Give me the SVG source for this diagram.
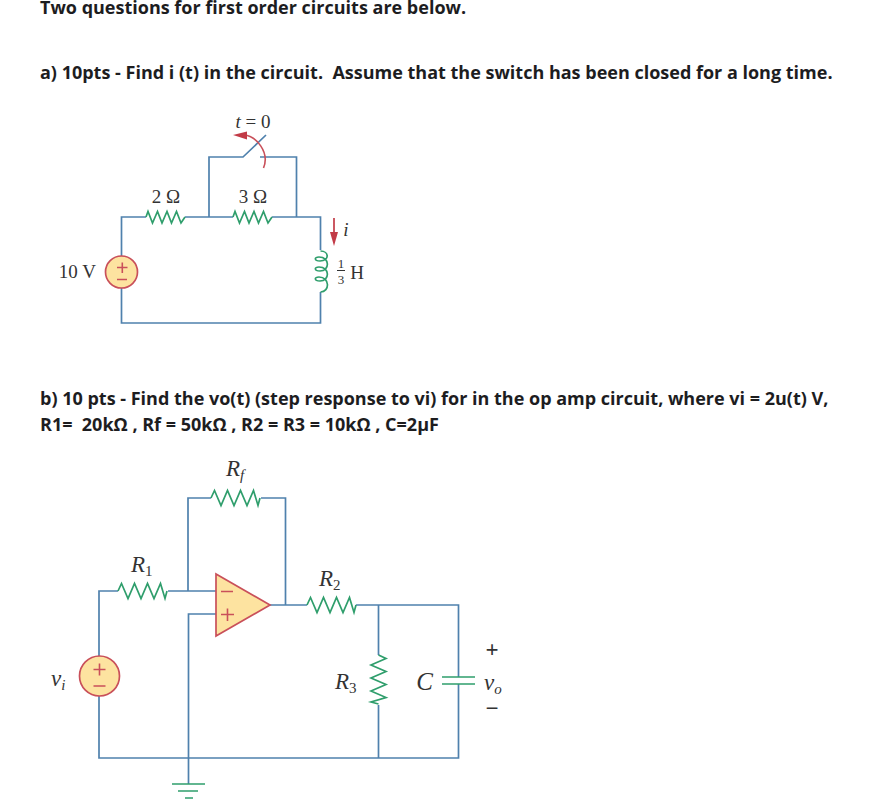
<svg xmlns="http://www.w3.org/2000/svg" width="872" height="803" viewBox="0 0 872 803">
<style>
.h{font:700 18px "Open Sans",sans-serif;fill:#1d1d1f;white-space:pre}
.w{fill:none;stroke:#4f81ad;stroke-width:1.700}
.r{fill:none;stroke:#2f9e6c;stroke-width:1.700}
.s{fill:#fde3a0;stroke:#c9505a;stroke-width:1.700}
.m{fill:none;stroke:#c9505a;stroke-width:1.600}
.t{font-family:"Liberation Serif",serif;font-size:19px;fill:#333}
.i{font-style:italic}
.b{font-size:23px}
.n{font-size:15px;font-style:normal}
.u{font-size:15px}
</style>
<defs>
<polyline id="zh" points="0,0 2,-5.500 6.500,6 11.500,-5.500 16,6 21,-5.500 25.500,6 30.500,-5.500 35,6 39,0"/>
<polyline id="zl" points="0,0 3.500,-7.500 10,7.500 16.500,-7.500 23,7.500 29.500,-7.500 36,7.500 42.500,-7.500 47,7.500 49,0"/>
</defs>
<rect width="872" height="803" fill="#fff"/>
<g id="headings">
<text class="h" x="40" y="14">Two questions for first order circuits are below.</text>
<text class="h" x="40" y="79">a) 10pts - Find i (t) in the circuit.  Assume that the switch has been closed for a long time.</text>
<text class="h" x="40" y="405">b) 10 pts - Find the vo(t) (step response to vi) for in the op amp circuit, where vi = 2u(t) V,</text>
<text class="h" x="40" y="431">R1=  20kΩ , Rf = 50kΩ , R2 = R3 = 10kΩ , C=2µF</text>
</g>
<g id="connectors">
<path class="w" d="M121.500 256V217H146M185 217H233M272 217H320.500V250M320.500 292V323H121.500V288"/>
<path class="w" d="M209 217V157H243L266 135M260 157H296.500V217"/>
<path class="w" d="M99 656V591H118M168 591H216M188 591V498H211M261 498H285.500V605M270 605H307M356 605H458.500V677M458.500 684V758H99V696"/>
<path class="w" d="M216 614H188.500V784M378.500 605V655M378.500 705V758"/>
</g>
<g id="R-2ohm"><use href="#zh" class="r" x="146" y="217"/><text class="t" x="166" y="203" text-anchor="middle">2 Ω</text></g>
<g id="R-3ohm"><use href="#zh" class="r" x="233" y="217"/><text class="t" x="253" y="203" text-anchor="middle">3 Ω</text></g>
<g id="switch">
<text class="t" x="253" y="128" text-anchor="middle"><tspan class="i">t</tspan> = 0</text>
<path class="m" d="M263.500 168C270 152 256 136 244 135"/>
<path d="M247 131.500L233 135L247 139.500Z" fill="#c23b47"/>
</g>
<g id="source-10V">
<circle class="s" cx="121.500" cy="272" r="16"/>
<path class="m" d="M117 267.500H127.500M122.300 262.500V273M117 279.500H127"/>
<text class="t" x="96" y="278" text-anchor="end">10 V</text>
</g>
<g id="inductor">
<path class="r" d="M320.500 251C329 251 330 261 320 261C314 261 314 257 319 257C330 257 330 271 320 271C314 271 314 267 319 267C330 267 330 281 320 281C314 281 314 277 319 277C330 277 330 292 320.500 292"/>
<text class="t" x="341" y="268" text-anchor="middle" style="font-size:13px">1</text>
<path d="M337 270.500H345" stroke="#333" stroke-width="1"/>
<text class="t" x="341" y="284" text-anchor="middle" style="font-size:13px">3</text>
<text class="t" x="357" y="279" text-anchor="middle">H</text>
</g>
<g id="current-i">
<path d="M334 218V234" stroke="#c23b47" stroke-width="1.700"/>
<path d="M330 232H338L334 246Z" fill="#c23b47"/>
<text class="t i" x="346" y="236" text-anchor="middle">i</text>
</g>
<g id="Rf"><use href="#zl" class="r" x="211" y="498"/><text class="t i b" x="226" y="476">R<tspan class="u" dy="4">f</tspan></text></g>
<g id="R1"><use href="#zl" class="r" x="118" y="591"/><text class="t i b" x="131" y="572">R<tspan class="n" dy="4">1</tspan></text></g>
<g id="R2"><use href="#zl" class="r" x="307" y="605"/><text class="t i b" x="319" y="586">R<tspan class="n" dy="4">2</tspan></text></g>
<g id="R3"><use href="#zl" class="r" transform="translate(378.500 655) rotate(90)"/><text class="t i b" x="335" y="689">R<tspan class="n" dy="4">3</tspan></text></g>
<g id="opamp">
<path class="s" d="M216 574V636L270 605Z"/>
<path class="m" d="M221 591.500H233M227.500 608.500V621M221 614.500H234"/>
</g>
<g id="source-vi">
<circle class="s" cx="99.500" cy="676" r="20"/>
<path class="m" d="M93.500 669.500H105.500M99.500 663.500V675.500M93.500 686H105.500"/>
<text class="t i b" x="51" y="686">v<tspan class="u" dy="4">i</tspan></text>
</g>
<g id="capacitor">
<path class="r" d="M442 677H475M442 684H475"/>
<text class="t i" x="424.500" y="690" text-anchor="middle" style="font-size:25px">C</text>
</g>
<g id="vo-label">
<text class="t" x="492" y="657" text-anchor="middle" style="font-size:23px;font-weight:bold">+</text>
<text class="t i b" x="484" y="690">v<tspan class="u" dy="4">o</tspan></text>
<text class="t" x="492" y="716" text-anchor="middle" style="font-size:23px;font-weight:bold">−</text>
</g>
<g id="ground">
<path class="r" d="M172 784H205M178 791H198M185 798H193"/>
</g>
</svg>
